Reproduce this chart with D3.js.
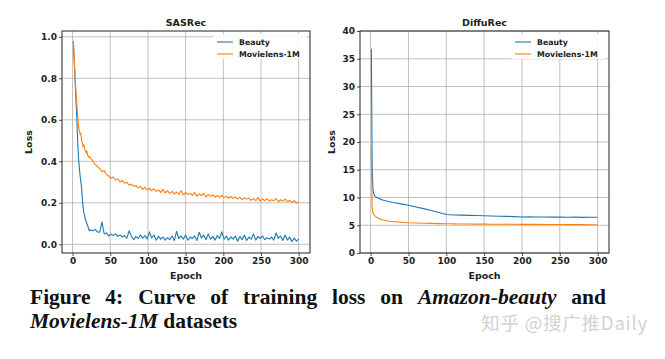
<!DOCTYPE html>
<html>
<head>
<meta charset="utf-8">
<script src="https://cdn.jsdelivr.net/npm/d3@7"></script>
<style>
  body { margin: 0; background: #fff; }
  svg { display: block; }
</style>
</head>
<body>
<svg width="665" height="359"></svg>
<script>
// ---- data ----
var seriesNames = ["Beauty", "Movielens-1M"];

// SASRec: dense first epochs, then every 3rd epoch
var sasEpochs = [1,2,3,4,5,6,7,8,9,10,11,12,13,14,15,16,17,18,19,20,21,22].concat(d3.range(24, 301, 3));
var sasBeauty = [0.98,0.90,0.82,0.74,0.66,0.57,0.48,0.41,0.37,0.33,0.30,0.27,0.22,0.18,0.15,0.14,0.12,0.11,0.10,0.09,0.08,0.065,
  0.07,0.065,0.072,0.06,0.058,0.108,0.05,0.055,0.04,0.048,
  0.042,0.05,0.038,0.045,0.035,0.042,0.03,0.065,0.04,0.022,
  0.038,0.028,0.045,0.03,0.042,0.025,0.06,0.03,0.045,0.02,
  0.038,0.025,0.035,0.02,0.032,0.022,0.04,0.018,0.062,0.028,
  0.04,0.025,0.045,0.02,0.035,0.028,0.04,0.018,0.058,0.03,
  0.045,0.022,0.05,0.025,0.038,0.02,0.042,0.028,0.06,0.025,
  0.04,0.02,0.035,0.025,0.04,0.015,0.038,0.022,0.045,0.018,
  0.035,0.025,0.05,0.02,0.038,0.028,0.04,0.022,0.032,0.025,
  0.035,0.02,0.055,0.028,0.04,0.018,0.045,0.02,0.035,0.012,
  0.03,0.015,0.025];
var sasMovie = [0.98,0.92,0.84,0.77,0.71,0.66,0.61,0.57,0.55,0.53,0.535,0.50,0.49,0.47,0.48,0.46,0.45,0.44,0.45,0.43,0.42,0.425,
  0.415,0.40,0.385,0.375,0.365,0.35,0.355,0.335,0.33,0.318,
  0.325,0.31,0.315,0.30,0.308,0.295,0.298,0.285,0.29,0.28,
  0.283,0.272,0.278,0.265,0.275,0.262,0.27,0.258,0.268,0.255,
  0.262,0.25,0.265,0.248,0.258,0.245,0.255,0.242,0.252,0.24,
  0.258,0.238,0.25,0.24,0.245,0.235,0.25,0.232,0.242,0.235,
  0.245,0.228,0.24,0.232,0.238,0.228,0.235,0.226,0.236,0.225,
  0.232,0.222,0.23,0.222,0.228,0.218,0.226,0.215,0.225,0.218,
  0.222,0.212,0.22,0.21,0.225,0.208,0.218,0.21,0.22,0.208,
  0.215,0.21,0.22,0.205,0.215,0.208,0.218,0.205,0.212,0.202,
  0.21,0.198,0.205];
var sasTicksY = [0, 0.2, 0.4, 0.6, 0.8, 1.0];

// DiffuRec
var difEpochs = [1,2,3,4,5,6,8,10,12,15,20,25,30,40,50,60,70,80,90,100,105,
  110,120,130,140,150,160,170,180,190,200,210,220,230,240,250,260,270,280,290,300];
var difBeauty = [36.8,16,11.6,10.8,10.4,10.2,10.0,9.9,9.75,9.6,9.4,9.25,9.1,8.85,8.6,8.3,8.0,7.65,7.3,6.95,6.9,
  6.85,6.82,6.78,6.75,6.7,6.68,6.62,6.6,6.55,6.5,6.52,6.48,6.5,6.47,6.5,6.45,6.47,6.42,6.44,6.45];
var difMovie = [19.3,8.2,7.3,7.0,6.8,6.6,6.45,6.3,6.15,6.0,5.85,5.72,5.65,5.55,5.45,5.4,5.36,5.33,5.3,5.27,5.26,
  5.25,5.23,5.22,5.2,5.2,5.19,5.18,5.17,5.17,5.16,5.15,5.15,5.14,5.13,5.13,5.12,5.12,5.11,5.1,5.1];
var difTicksY = [0, 5, 10, 15, 20, 25, 30, 35, 40];

var epochTicks = [0, 50, 100, 150, 200, 250, 300];
var colors = ["#1f77b4", "#ff7f0e"];

var svg = d3.select("svg");
var font = "'DejaVu Sans', sans-serif";

function zip(xs, ys) {
  return xs.map(function (x, i) { return [x, ys[i]]; });
}

function drawPanel(opt) {
  var x = d3.scaleLinear().domain([-14, 315]).range([opt.left, opt.right]);
  var y = d3.scaleLinear().domain(opt.yDomain).range([opt.bottom, opt.top]);
  var g = svg.append("g");

  // grid
  g.selectAll(".gx").data(epochTicks).enter().append("line")
    .attr("x1", function (d) { return x(d); }).attr("x2", function (d) { return x(d); })
    .attr("y1", opt.top).attr("y2", opt.bottom)
    .attr("stroke", "#b0b0b0").attr("stroke-width", 0.8);
  g.selectAll(".gy").data(opt.yTicks).enter().append("line")
    .attr("y1", function (d) { return y(d); }).attr("y2", function (d) { return y(d); })
    .attr("x1", opt.left).attr("x2", opt.right)
    .attr("stroke", "#b0b0b0").attr("stroke-width", 0.8);

  // lines
  var line = d3.line().x(function (d) { return x(d[0]); }).y(function (d) { return y(d[1]); });
  opt.series.forEach(function (s, i) {
    g.append("path").datum(zip(opt.epochs, s))
      .attr("fill", "none").attr("stroke", colors[i])
      .attr("stroke-width", 1.1).attr("stroke-linejoin", "round")
      .attr("d", line);
  });

  // axes
  var xAxis = g.append("g").attr("transform", "translate(0," + opt.bottom + ")")
    .call(d3.axisBottom(x).tickValues(epochTicks).tickSize(3).tickPadding(2));
  var yAxis = g.append("g").attr("transform", "translate(" + opt.left + ",0)")
    .call(d3.axisLeft(y).tickValues(opt.yTicks).tickSize(3).tickPadding(2).tickFormat(opt.fmt));
  [xAxis, yAxis].forEach(function (a) {
    a.select(".domain").remove();
    a.selectAll("line").attr("stroke", "#222").attr("stroke-width", 0.8);
    a.selectAll("text").attr("font-family", font).attr("font-weight", "bold")
      .attr("font-size", opt.tickSize).attr("fill", "#222");
  });

  // frame
  g.append("rect").attr("x", opt.left).attr("y", opt.top)
    .attr("width", opt.right - opt.left).attr("height", opt.bottom - opt.top)
    .attr("fill", "none").attr("stroke", "#222").attr("stroke-width", 1);

  // title and labels
  g.append("text").attr("x", (opt.left + opt.right) / 2).attr("y", opt.top - 5)
    .attr("text-anchor", "middle").attr("font-family", font).attr("font-weight", "bold")
    .attr("font-size", 9.5).attr("fill", "#222").text(opt.title);
  g.append("text").attr("x", (opt.left + opt.right) / 2).attr("y", opt.bottom + 26)
    .attr("text-anchor", "middle").attr("font-family", font).attr("font-weight", "bold")
    .attr("font-size", 9.5).attr("fill", "#222").text("Epoch");
  g.append("text")
    .attr("transform", "translate(" + opt.yLabelX + "," + (opt.top + opt.bottom) / 2 + ") rotate(-90)")
    .attr("text-anchor", "middle").attr("font-family", font).attr("font-weight", "bold")
    .attr("font-size", 9.5).attr("fill", "#222").text("Loss");

  // legend
  var lg = g.append("g");
  lg.append("rect").attr("x", opt.legendX - 4).attr("y", opt.top + 3)
    .attr("width", opt.right - opt.legendX + 1).attr("height", 25)
    .attr("fill", "#fff").attr("fill-opacity", 0.85).attr("rx", 2);
  seriesNames.forEach(function (name, i) {
    var ly = opt.top + 11 + i * 12;
    lg.append("line").attr("x1", opt.legendX).attr("x2", opt.legendX + 16)
      .attr("y1", ly).attr("y2", ly).attr("stroke", colors[i]).attr("stroke-width", 1.1);
    lg.append("text").attr("x", opt.legendX + 22).attr("y", ly + 3)
      .attr("font-family", font).attr("font-weight", "bold").attr("font-size", 7.8)
      .attr("fill", "#222").text(name);
  });
}

drawPanel({
  left: 62, right: 310, top: 31, bottom: 253,
  yDomain: [-0.042, 1.028], yTicks: sasTicksY, fmt: d3.format(".1f"),
  epochs: sasEpochs, series: [sasBeauty, sasMovie],
  title: "SASRec", yLabelX: 32, legendX: 217, tickSize: 9
});
drawPanel({
  left: 360, right: 609, top: 31, bottom: 253,
  yDomain: [0, 40], yTicks: difTicksY, fmt: d3.format("d"),
  epochs: difEpochs, series: [difBeauty, difMovie],
  title: "DiffuRec", yLabelX: 335, legendX: 515, tickSize: 9
});

// caption, justified first line
var capFont = "'Liberation Serif', 'DejaVu Serif', serif";
var capSize = 21.5;
var line1 = [
  { t: "Figure", i: false }, { t: "4:", i: false }, { t: "Curve", i: false },
  { t: "of", i: false }, { t: "training", i: false }, { t: "loss", i: false },
  { t: "on", i: false }, { t: "Amazon-beauty", i: true }, { t: "and", i: false }
];
var capLeft = 30, capRight = 606;
var words = svg.selectAll(".w1").data(line1).enter().append("text")
  .attr("y", 304).attr("font-family", capFont).attr("font-weight", "bold")
  .attr("font-size", capSize).attr("font-style", function (d) { return d.i ? "italic" : "normal"; })
  .attr("fill", "#111").text(function (d) { return d.t; });
var widths = [];
words.each(function () { widths.push(this.getComputedTextLength()); });
var gap = (capRight - capLeft - d3.sum(widths)) / (line1.length - 1);
var cx = capLeft;
words.attr("x", function (d, i) { var p = cx; cx += widths[i] + gap; return p; });

var l2 = svg.append("text").attr("x", capLeft).attr("y", 328)
  .attr("font-family", capFont).attr("font-weight", "bold").attr("font-size", capSize).attr("fill", "#111");
l2.append("tspan").attr("font-style", "italic").text("Movielens-1M");
l2.append("tspan").text(" datasets");

// watermark
svg.append("text").attr("x", 648).attr("y", 330).attr("text-anchor", "end")
  .attr("font-family", "'Noto Sans CJK SC', sans-serif").attr("font-size", 18.5)
  .attr("letter-spacing", 0.8).attr("fill", "#d2d2d2").text("知乎 @搜广推Daily");
</script>
</body>
</html>
